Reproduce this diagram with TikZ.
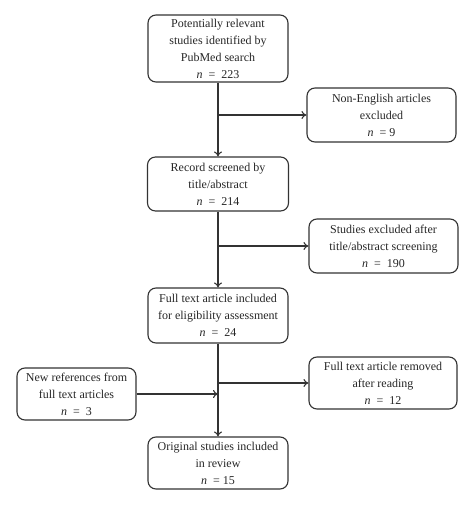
\documentclass[tikz,border=0pt]{standalone}
\usepackage{fontspec}
\setmainfont{Liberation Serif}
\usetikzlibrary{arrows.meta}
\begin{document}
\begin{tikzpicture}[x=1pt,y=1pt,
  box/.style={draw=black!80, line width=1.1pt, rounded corners=8pt, align=center,
    font=\fontsize{12}{17}\selectfont, text=black!85, inner sep=1pt},
  conn/.style={draw=black!80, line width=1.1pt},
  arr/.style={conn, -{To[length=5pt,width=8pt]}}]
\useasboundingbox (0,0) rectangle (474,-506);
\node[box, minimum width=140pt, minimum height=67pt] (b1) at (218,-48.5)
  {Potentially relevant\\studies identified by\\PubMed search\\\textit{n} \ = \ 223};
\node[box, minimum width=149pt, minimum height=54pt] (b2) at (381.5,-115)
  {Non-English articles\\excluded\\\textit{n} \ = 9};
\node[box, minimum width=141pt, minimum height=54pt] (b3) at (218,-184)
  {Record screened by\\title/abstract\\\textit{n} \ = \ 214};
\node[box, minimum width=149pt, minimum height=54pt] (b4) at (383.5,-246)
  {Studies excluded after\\title/abstract screening\\\textit{n} \ = \ 190};
\node[box, minimum width=140pt, minimum height=55pt] (b5) at (218,-315.5)
  {Full text article included\\for eligibility assessment\\\textit{n} \ = \ 24};
\node[box, minimum width=119pt, minimum height=52pt] (b6) at (76.5,-394)
  {New references from\\full text articles\\\textit{n} \ = \ 3};
\node[box, minimum width=148pt, minimum height=52pt] (b7) at (383,-383)
  {Full text article removed\\after reading\\\textit{n} \ = \ 12};
\node[box, minimum width=140pt, minimum height=52pt] (b8) at (218,-463)
  {Original studies included\\in review\\\textit{n} \ = 15};
\coordinate (c1) at (218,-115);
\coordinate (c2) at (218,-246);
\coordinate (c3) at (218,-383);
\coordinate (c4) at (b6.east -| b1.south);
\draw[arr] (b1.south) -- (b3.north);
\draw[arr] (c1) -- (b2.west);
\draw[arr] (b3.south) -- (b5.north);
\draw[arr] (c2) -- (b4.west);
\draw[arr] (b5.south) -- (b8.north);
\draw[arr] (c3) -- (b7.west);
\draw[arr] (b6.east) -- (c4);
\end{tikzpicture}
\end{document}
